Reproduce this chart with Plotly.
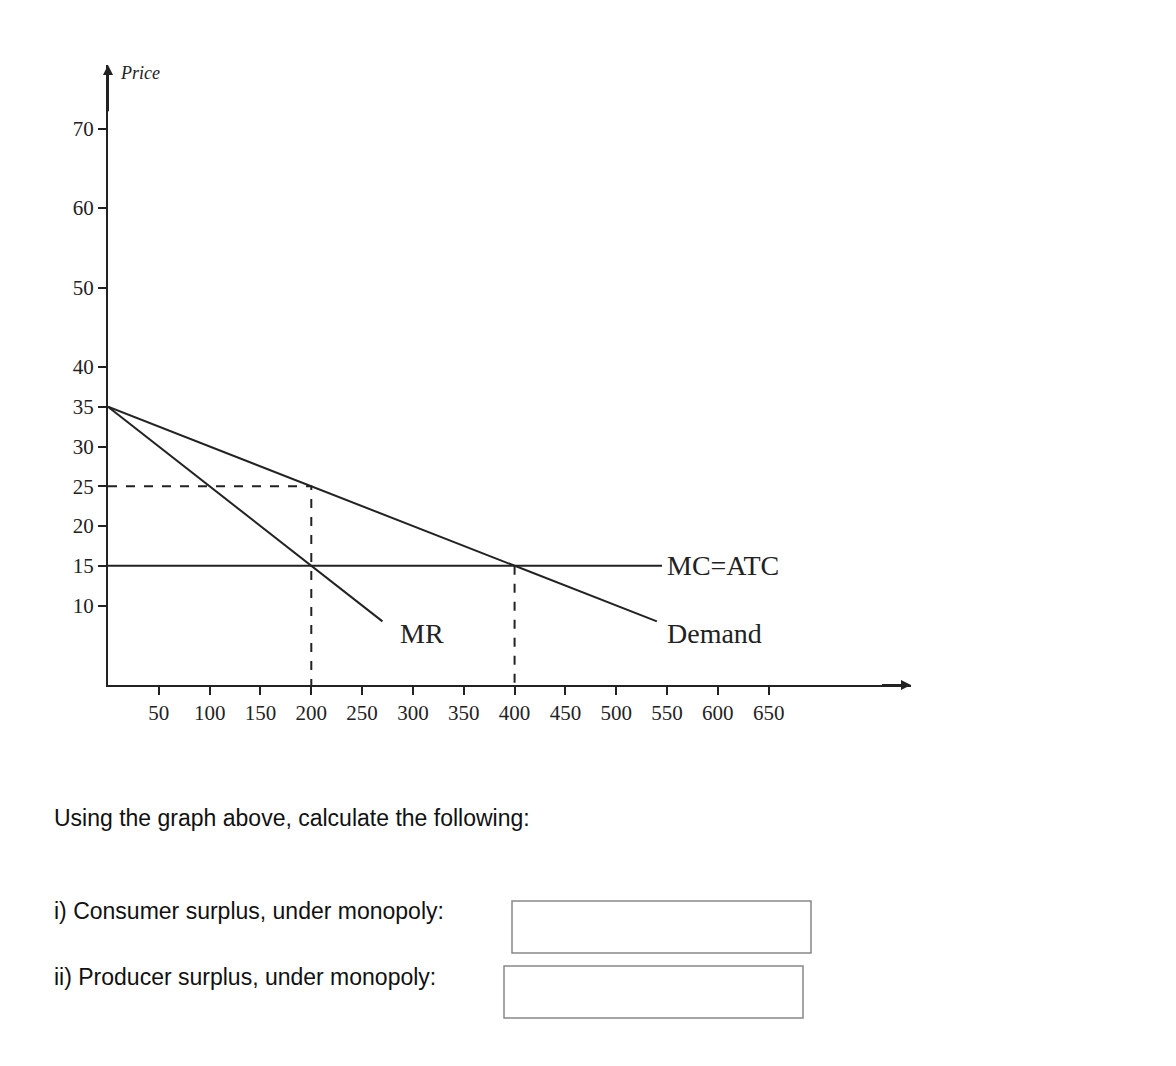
import plotly.graph_objects as go

# data
q_demand = [0, 540]
p_demand = [35, 8]
q_mr = [0, 270]
p_mr = [35, 8]
q_mc = [0, 545]
p_mc = [15, 15]
q_mono, p_mono = 200, 25
q_comp, p_comp = 400, 15
x_ticks = [50, 100, 150, 200, 250, 300, 350, 400, 450, 500, 550, 600, 650]
y_ticks = [10, 15, 20, 25, 30, 35, 40, 50, 60, 70]

W, H = 1176, 1066
L, R, T, B = 100, 903, 57, 677


def px(x):
    return (x - L) / (R - L)


def py(y):
    return (B - y) / (B - T)


serif = dict(family="Liberation Serif", size=21, color="#222")
fig = go.Figure()
black = dict(color="#222", width=2)
fig.add_trace(go.Scatter(x=q_demand, y=p_demand, mode="lines", line=black))
fig.add_trace(go.Scatter(x=q_mr, y=p_mr, mode="lines", line=black))
fig.add_trace(go.Scatter(x=q_mc, y=p_mc, mode="lines", line=black))
dash = dict(color="#222", width=2, dash="dash")
fig.add_trace(go.Scatter(x=[0, q_mono, q_mono], y=[p_mono, p_mono, 0], mode="lines", line=dash))
fig.add_trace(go.Scatter(x=[q_comp, q_comp], y=[p_comp, 0], mode="lines", line=dash))

fig.update_xaxes(range=[0, 790], tickvals=x_ticks, ticks="outside", ticklen=8,
                 tickwidth=2, tickcolor="#222", showline=True, linecolor="#222",
                 linewidth=2, showgrid=False, zeroline=False, tickfont=serif)
fig.update_yaxes(range=[0, 78], tickvals=y_ticks, ticks="outside", ticklen=8,
                 tickwidth=2, tickcolor="#222", showline=True, linecolor="#222",
                 linewidth=2, showgrid=False, zeroline=False, tickfont=serif)

big = dict(family="Liberation Serif", size=28, color="#222")
ann = [
    dict(x=548, y=15, text="MC=ATC", xanchor="left", showarrow=False, font=big),
    dict(x=548, y=6.5, text="Demand", xanchor="left", showarrow=False, font=big),
    dict(x=285, y=6.5, text="MR", xanchor="left", showarrow=False, font=big),
    dict(x=700, y=-5.5, text="<i>Quantity</i>", xanchor="left", showarrow=False,
         font=dict(family="Liberation Serif", size=18, color="#222")),
    dict(x=10, y=77, text="<i>Price</i>", xanchor="left", showarrow=False,
         font=dict(family="Liberation Serif", size=18, color="#222")),
]
sans = dict(family="Liberation Sans", size=23, color="#111")
ann += [
    dict(xref="paper", yref="paper", x=px(44), y=py(825), text="Using the graph above, calculate the following:",
         xanchor="left", showarrow=False, font=sans),
    dict(xref="paper", yref="paper", x=px(44), y=py(918), text="i) Consumer surplus, under monopoly:",
         xanchor="left", showarrow=False, font=sans),
    dict(xref="paper", yref="paper", x=px(44), y=py(984), text="ii) Producer surplus, under monopoly:",
         xanchor="left", showarrow=False, font=sans),
]
# axis arrows
ann += [
    dict(x=790, y=0, ax=760, ay=0, axref="x", ayref="y", showarrow=True, arrowhead=2,
         arrowwidth=2, arrowcolor="#222", text=""),
    dict(x=0, y=78, ax=0, ay=72, axref="x", ayref="y", showarrow=True, arrowhead=2,
         arrowwidth=2, arrowcolor="#222", text=""),
]
shapes = [
    dict(type="rect", xref="paper", yref="paper", x0=px(504), x1=px(803), y0=py(893), y1=py(945),
         line=dict(color="#888", width=1.5), layer="above"),
    dict(type="rect", xref="paper", yref="paper", x0=px(496), x1=px(795), y0=py(958), y1=py(1010),
         line=dict(color="#888", width=1.5), layer="above"),
]
fig.update_layout(width=W, height=H, margin=dict(l=L, r=W - R, t=T, b=H - B),
                  showlegend=False, plot_bgcolor="white", paper_bgcolor="white",
                  annotations=ann, shapes=shapes)
fig.write_html("out.html")
